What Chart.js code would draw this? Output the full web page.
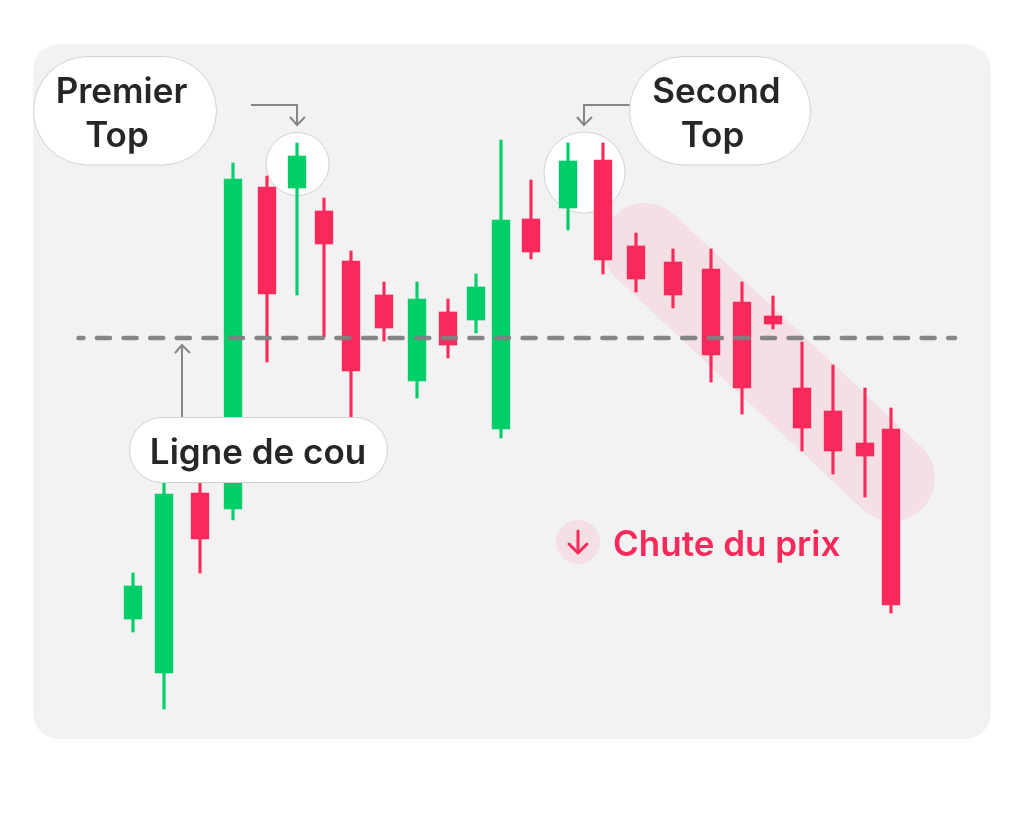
<!DOCTYPE html>
<html lang="fr">
<head>
<meta charset="utf-8">
<title>Double top</title>
<script src="https://cdn.jsdelivr.net/npm/chart.js@4/dist/chart.umd.min.js"></script>
<style>
  html, body { margin: 0; padding: 0; background: #ffffff; }
  canvas { display: block; }
</style>
</head>
<body>
<canvas id="doubleTopChart" width="1024" height="837"></canvas>
<script>
// candle data
var sessions = [133, 164, 200, 233, 267, 297, 324, 351, 384, 417, 448, 476, 501, 531, 568, 603, 636, 673, 711, 742, 773, 802, 833, 865, 891];
var opens  = [218, 164, 344, 328, 650, 649, 626, 576, 542, 456, 525, 517, 408, 618, 629, 677, 591, 575, 568, 535, 521, 449, 426, 394, 408];
var closes = [251, 343, 298, 658, 543, 681, 593, 466, 509, 538, 492, 550, 617, 585, 676, 577, 558, 542, 482, 449, 513, 409, 386, 381, 232];
var highs  = [264, 367, 367, 674, 661, 694, 639, 586, 555, 555, 538, 563, 697, 657, 694, 694, 604, 588, 588, 555, 541, 495, 472, 449, 429];
var lows   = [205, 128, 264, 317, 475, 542, 500, 412, 496, 439, 479, 504, 399, 578, 607, 563, 545, 529, 455, 423, 508, 386, 363, 340, 224];

// neckline and the falling price band
var necklineSessions = [78.6, 955];
var necklinePrices = [499, 499];
var fallSessions = [645, 892];
var fallPrices = [591, 359];

var GREEN = '#00CE69';
var RED = '#F92A5B';
var PINK = '#F3DFE4';
var GREY = '#868686';
var INK = '#262626';
var FONT = 'Inter, "Noto Sans", sans-serif';

function candleColor(i) {
  return closes[i] >= opens[i] ? GREEN : RED;
}

var bodyData = sessions.map(function(x, i) {
  return { x: x, y: [opens[i], closes[i]] };
});
var wickData = sessions.map(function(x, i) {
  return { x: x, y: [lows[i], highs[i]] };
});
var candleColors = sessions.map(function(x, i) {
  return candleColor(i);
});

function roundedBox(ctx, x, y, w, h, r) {
  ctx.beginPath();
  ctx.roundRect(x, y, w, h, r);
}

function bubble(ctx, x, y, w, h, lines) {
  roundedBox(ctx, x, y, w, h, h / 2);
  ctx.fillStyle = '#ffffff';
  ctx.fill();
  ctx.lineWidth = 1;
  ctx.strokeStyle = '#D2D2D2';
  ctx.stroke();
  ctx.fillStyle = INK;
  ctx.font = '600 35px ' + FONT;
  ctx.textAlign = 'center';
  ctx.textBaseline = 'alphabetic';
  lines.forEach(function(line) {
    ctx.fillText(line.text, line.x, line.y);
  });
}

function polyline(ctx, points, color, width) {
  ctx.beginPath();
  points.forEach(function(p, i) {
    if (i === 0) {
      ctx.moveTo(p[0], p[1]);
    } else {
      ctx.lineTo(p[0], p[1]);
    }
  });
  ctx.strokeStyle = color;
  ctx.lineWidth = width;
  ctx.stroke();
}

var panelPlugin = {
  id: 'panel',
  beforeDatasetsDraw: function(chart) {
    var ctx = chart.ctx;
    ctx.save();
    roundedBox(ctx, 33, 44, 958, 695, 26);
    ctx.fillStyle = '#F2F2F2';
    ctx.fill();
    ctx.restore();
  }
};

var notesPlugin = {
  id: 'notes',
  afterDatasetsDraw: function(chart) {
    var ctx = chart.ctx;
    ctx.save();
    ctx.lineCap = 'butt';
    ctx.lineJoin = 'miter';

    // arrows
    polyline(ctx, [[251, 105], [297, 105], [297, 125]], GREY, 2);
    polyline(ctx, [[290, 117], [297, 125], [305, 117]], GREY, 2);
    polyline(ctx, [[631, 105], [584, 105], [584, 125]], GREY, 2);
    polyline(ctx, [[577, 117], [584, 125], [592, 117]], GREY, 2);
    polyline(ctx, [[182, 417], [182, 345]], GREY, 2);
    polyline(ctx, [[175, 353], [182, 345], [190, 353]], GREY, 2);

    bubble(ctx, 33.5, 56.5, 183, 108.5, [
      { text: 'Premier', x: 121.5, y: 103 },
      { text: 'Top', x: 117, y: 147 }
    ]);
    bubble(ctx, 629.5, 56.5, 181, 108.5, [
      { text: 'Second', x: 716.5, y: 103 },
      { text: 'Top', x: 712.5, y: 147 }
    ]);
    bubble(ctx, 129.5, 417.5, 258, 65, [
      { text: 'Ligne de cou', x: 258, y: 463.5 }
    ]);

    // falling price note
    ctx.beginPath();
    ctx.arc(578, 542, 22, 0, Math.PI * 2);
    ctx.fillStyle = PINK;
    ctx.fill();
    ctx.lineCap = 'round';
    ctx.lineJoin = 'round';
    polyline(ctx, [[578, 531], [578, 552]], RED, 3);
    polyline(ctx, [[569, 544], [578, 553], [587, 544]], RED, 3);
    ctx.fillStyle = RED;
    ctx.font = '600 35px ' + FONT;
    ctx.textAlign = 'left';
    ctx.textBaseline = 'alphabetic';
    ctx.fillText('Chute du prix', 613, 556);
    ctx.restore();
  }
};

var chartCtx = document.getElementById('doubleTopChart').getContext('2d');
new Chart(chartCtx, {
  type: 'bar',
  data: {
    datasets: [
      {
        type: 'line',
        label: 'Ligne de cou',
        data: necklineSessions.map(function(x, i) { return { x: x, y: necklinePrices[i] }; }),
        borderColor: 'rgba(128, 128, 128, 0.95)',
        borderWidth: 4.6,
        borderDash: [13, 13.6],
        borderDashOffset: 8.2,
        borderCapStyle: 'round',
        pointRadius: 0,
        order: 1
      },
      {
        label: 'Corps',
        data: bodyData,
        backgroundColor: candleColors,
        borderWidth: 0,
        barThickness: 17.7,
        grouped: false,
        order: 2
      },
      {
        label: 'Mèches',
        data: wickData,
        backgroundColor: candleColors,
        borderWidth: 0,
        barThickness: 2.5,
        grouped: false,
        order: 3
      },
      {
        type: 'line',
        label: 'Sommets',
        data: [{ x: 297.5, y: 673 }, { x: 584.5, y: 664.5 }],
        showLine: false,
        pointRadius: [31.5, 40.5],
        pointBackgroundColor: '#ffffff',
        pointBorderColor: '#D2D2D2',
        pointBorderWidth: 1,
        order: 4
      },
      {
        type: 'line',
        label: 'Chute du prix',
        data: fallSessions.map(function(x, i) { return { x: x, y: fallPrices[i] }; }),
        borderColor: PINK,
        borderWidth: 86,
        borderCapStyle: 'round',
        pointRadius: 0,
        order: 5
      }
    ]
  },
  options: {
    responsive: false,
    animation: false,
    events: [],
    layout: { padding: 0, autoPadding: false },
    plugins: {
      legend: { display: false },
      tooltip: { enabled: false }
    },
    scales: {
      x: { type: 'linear', min: 0, max: 1024, offset: false, display: false },
      y: { type: 'linear', min: 0, max: 837, display: false }
    }
  },
  plugins: [panelPlugin, notesPlugin]
});
</script>
</body>
</html>
